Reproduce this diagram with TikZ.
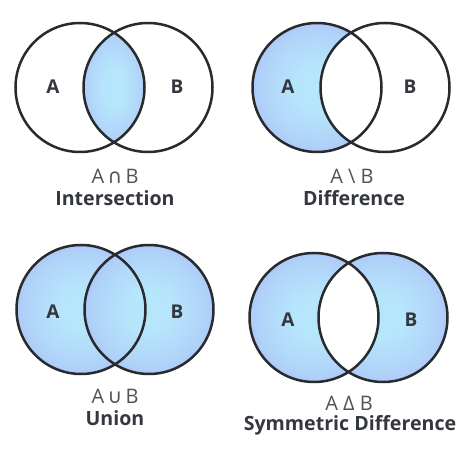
\documentclass[tikz,border=0pt]{standalone}
\usepackage{fontspec}
\setmainfont{Open Sans}
\newfontfamily\symfont{DejaVu Sans}
\definecolor{vcen}{RGB}{182,230,251}
\definecolor{vmid}{RGB}{176,210,249}
\definecolor{vedge}{RGB}{164,172,242}
\definecolor{ring}{RGB}{40,42,46}
\definecolor{txt}{RGB}{52,56,62}
\definecolor{optxt}{RGB}{80,82,86}
\pgfdeclareradialshading{vennshade}{\pgfpoint{0bp}{0bp}}{color(0bp)=(vcen); color(8bp)=(vcen); color(22bp)=(vmid); color(35bp)=(vedge); color(80bp)=(vedge)}
\tikzset{
  ringline/.style={draw=ring, line width=2.5pt},
  setlabel/.style={font=\fontsize{19}{22}\selectfont\bfseries, text=txt, inner sep=0pt},
  opnote/.style={font=\fontsize{20}{23}\selectfont, text=optxt, inner sep=0pt},
  optitle/.style={font=\fontsize{19.6}{23}\selectfont\bfseries, text=txt, inner sep=0pt},
  vshade/.style={shading=vennshade}
}
\begin{document}
\begin{tikzpicture}[x=1pt,y=1pt]
\useasboundingbox[fill=white] (0,0) rectangle (474,450);
\def\R{64.5}
% ---------- Panel 1: Intersection ----------
\coordinate (a1) at (80,362.5);
\coordinate (b1) at (148,362.5);
\begin{scope}
  \clip (a1) circle (\R);
  \clip (b1) circle (\R);
  \shade[vshade] (114,362.5) ellipse (32 and 58);
\end{scope}
\draw[ringline] (a1) circle (\R);
\draw[ringline] (b1) circle (\R);
\node[setlabel] (la1) at (53,363) {A};
\node[setlabel] (lb1) at (177,363) {B};
\node[opnote] (n1) at (115,274) {A\,{\symfont ∩}\,B};
\node[optitle] (t1) at (115,252) {Intersection};
% ---------- Panel 2: Difference ----------
\coordinate (a2) at (317,362.5);
\coordinate (b2) at (385,362.5);
\shade[vshade] (a2) circle (\R);
\fill[white] (b2) circle (\R);
\draw[ringline] (a2) circle (\R);
\draw[ringline] (b2) circle (\R);
\node[setlabel] (la2) at (288,363) {A};
\node[setlabel] (lb2) at (410,363) {B};
\node[opnote] (n2) at (352,274) {A \textbackslash\ B};
\node[optitle] (t2) at (354,252) {Difference};
% ---------- Panel 3: Union ----------
\coordinate (a3) at (81,140.5);
\coordinate (b3) at (149,140.5);
\shade[vshade] (a3) circle (\R);
\shade[vshade] (b3) circle (\R);
\draw[ringline] (a3) circle (\R);
\draw[ringline] (b3) circle (\R);
\node[setlabel] (la3) at (53,138) {A};
\node[setlabel] (lb3) at (177,138) {B};
\node[opnote] (n3) at (115,54) {A\,{\symfont ∪}\,B};
\node[optitle] (t3) at (115,32) {Union};
% ---------- Panel 4: Symmetric difference ----------
\coordinate (a4) at (314,132.5);
\coordinate (b4) at (383,132.5);
\shade[vshade] (a4) circle (\R);
\shade[vshade] (b4) circle (\R);
\begin{scope}
  \clip (a4) circle (\R);
  \fill[white] (b4) circle (\R);
\end{scope}
\draw[ringline] (a4) circle (\R);
\draw[ringline] (b4) circle (\R);
\node[setlabel] (la4) at (288,130) {A};
\node[setlabel] (lb4) at (411,130) {B};
\node[opnote] (n4) at (349,47) {A Δ B};
\node[optitle] (t4) at (350,25) {Symmetric Difference};
\end{tikzpicture}
\end{document}
